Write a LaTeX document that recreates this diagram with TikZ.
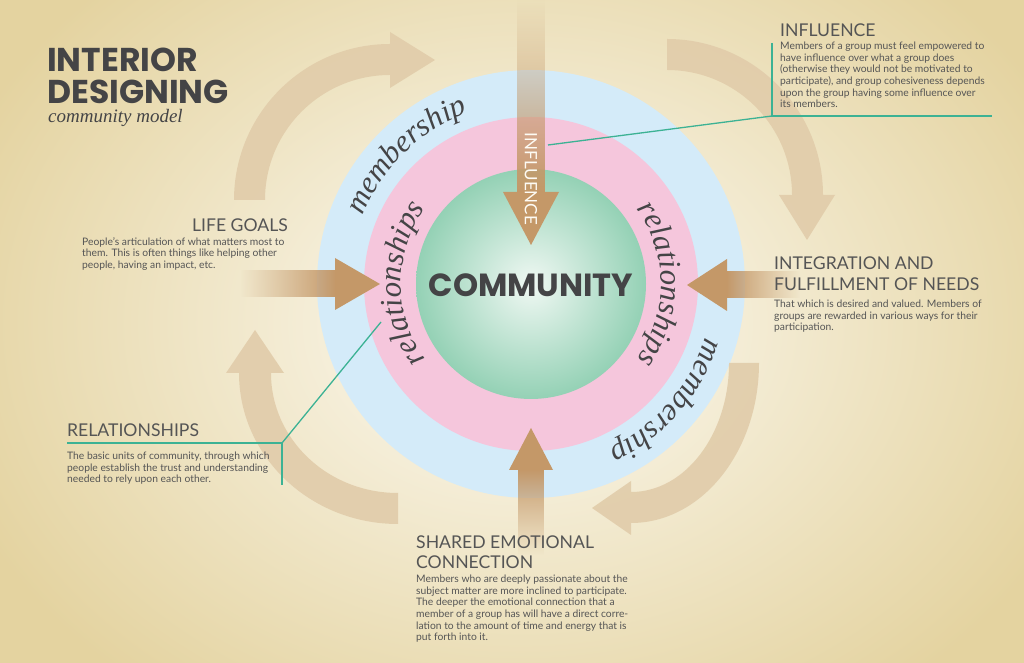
\documentclass[tikz,border=0pt]{standalone}
\usepackage{fontspec}
\setmainfont{Lato}
\newfontfamily\titlefont{Poppins}
\newfontfamily\serifit{Liberation Serif}
\usetikzlibrary{decorations.text,fadings,calc}
\definecolor{tan}{RGB}{228,211,160}
\definecolor{bgw}{RGB}{253,251,244}
\definecolor{ringblue}{RGB}{212,235,249}
\definecolor{ringpink}{RGB}{245,198,220}
\definecolor{ballg}{RGB}{148,209,181}
\definecolor{ballw}{RGB}{240,248,243}
\definecolor{brownarr}{RGB}{196,152,104}
\definecolor{lightarr}{RGB}{225,204,170}
\definecolor{teal}{RGB}{60,178,148}
\definecolor{txt}{RGB}{85,85,85}
\definecolor{dark}{RGB}{68,68,70}
\tikzset{
  bigarrow/.style={fill=lightarr, fill opacity=.9},
  headtxt/.style={font=\fontsize{17.6}{21}\selectfont, text=txt, inner sep=0pt, align=left},
  bodytxt/.style={font=\fontsize{10.3}{11.6}\selectfont, text=txt, inner sep=0pt, align=left, anchor=north west},
  tealline/.style={draw=teal, line width=1.3pt},
  arctext/.style={decorate, decoration={text along path, text align=center, text color=dark}},
}
\begin{document}
\begin{tikzpicture}[x=1pt,y=1pt]
\useasboundingbox (0,0) rectangle (1024,663);
% background
\fill[tan] (0,0) rectangle (1024,663);
\shade[inner color=bgw, outer color=tan] (520,340) ellipse (600 and 470);
\coordinate (C) at (531,379);
% rings
\fill[ringblue] (C) circle (214);
\fill[ringpink] (C) circle (167);
\shade[inner color=ballw, outer color=ballg] (C) circle (115);
% big curved arrows
\fill[bigarrow] (234,463) arc (180:90:156) -- (390,631) -- (435,603) -- (390,575) -- (390,588) arc (90:180:125) -- cycle;
\fill[bigarrow] (667,624) arc (90:0:156) -- (835,468) -- (807,423) -- (779,468) -- (792,468) arc (0:90:125) -- cycle;
\fill[bigarrow] (759,300) arc (0:-90:128 and 160) -- (631,128) -- (592,155) -- (631,182) -- (631,171) arc (-90:0:98 and 129) -- cycle;
\fill[bigarrow] (398,139) arc (270:180:159 and 151) -- (226,290) -- (255,333) -- (284,290) -- (271,290) arc (180:270:127 and 120) -- cycle;
% centre arrows
\fill[brownarr, path fading=north] (517,663) rectangle (545,471);
\fill[brownarr] (503,471) -- (559,471) -- (531,418) -- cycle;
\fill[brownarr, path fading=west] (240,366) rectangle (336,393);
\fill[brownarr] (335,353) -- (335,405) -- (380,379) -- cycle;
\fill[brownarr, path fading=east] (726,365) rectangle (800,392);
\fill[brownarr] (727,352) -- (727,404) -- (687,378) -- cycle;
\fill[brownarr, path fading=south] (518,108) rectangle (544,194);
\fill[brownarr] (509,193) -- (553,193) -- (531,235) -- cycle;
\node[rotate=-90, text=bgw, font=\fontsize{17}{17}\selectfont, inner sep=0pt] (infl) at (531,484) {INFLUENCE};
% arc texts
\path[arctext, decoration={text={|\fontsize{31}{31}\serifit\itshape|membership}}] ($(C)+(166:182)$) arc (166:102:182);
\path[arctext, decoration={text={|\fontsize{31}{31}\serifit\itshape|relationships}}] ($(C)+(226:130)$) arc (226:134:130);
\path[arctext, decoration={text={|\fontsize{31}{31}\serifit\itshape|relationships}}] ($(C)+(46:130)$) arc (46:-46:130);
\path[arctext, decoration={text={|\fontsize{31}{31}\serifit\itshape|membership}}] ($(C)+(-7:182)$) arc (-7:-75:182);
\node[font=\titlefont\bfseries\fontsize{32}{32}\selectfont, text=dark, inner sep=0pt] (comm) at (531,378) {COMMUNITY};
% title
\node[anchor=base west, font=\titlefont\bfseries\fontsize{33}{33}\selectfont, text=dark, inner sep=0pt] (t1) at (47,591) {INTERIOR};
\node[anchor=base west, font=\titlefont\bfseries\fontsize{33}{33}\selectfont, text=dark, inner sep=0pt] (t2) at (47,559) {DESIGNING};
\node[anchor=base west, font=\serifit\itshape\fontsize{19}{19}\selectfont, text=dark, inner sep=0pt] (t3) at (48,540) {community model};
% life goals
\node[headtxt, anchor=base east] (lg) at (288,431) {LIFE GOALS};
\node[bodytxt] (lgb) at (82,426) {People's articulation of what matters most to\\them. This is often things like helping other\\people, having an impact, etc.};
% influence
\node[headtxt, anchor=base west] (inf) at (780,626) {INFLUENCE};
\node[bodytxt] (infb) at (780,621) {Members of a group must feel empowered to\\have influence over what a group does\\(otherwise they would not be motivated to\\participate), and group cohesiveness depends\\upon the group having some influence over\\its members.};
% integration
\node[headtxt, anchor=base west] (integ) at (774,393) {INTEGRATION AND};
\node[headtxt, anchor=base west] (integ2) at (774,372) {FULFILLMENT OF NEEDS};
\node[bodytxt] (integb) at (774,363) {That which is desired and valued. Members of\\groups are rewarded in various ways for their\\participation.};
% relationships
\node[headtxt, anchor=base west] (rel) at (67,226) {RELATIONSHIPS};
\node[bodytxt] (relb) at (67,211) {The basic units of community, through which\\people establish the trust and understanding\\needed to rely upon each other.};
% shared
\node[headtxt, anchor=base west] (sh) at (416,114) {SHARED EMOTIONAL};
\node[headtxt, anchor=base west] (sh2) at (416,94) {CONNECTION};
\node[bodytxt] (shb) at (416,88) {Members who are deeply passionate about the\\subject matter are more inclined to participate.\\The deeper the emotional connection that a\\member of a group has will have a direct corre-\\lation to the amount of time and energy that is\\put forth into it.};
% teal leader lines
\coordinate (ij) at (772,547);
\coordinate (it) at (772,620);
\coordinate (ie) at (992,547);
\coordinate (ip) at (548,518);
\draw[tealline] (it) -- (ij) -- (ie);
\draw[tealline] (ij) -- (ip);
\coordinate (rj) at (282,220);
\coordinate (rl) at (67,220);
\coordinate (rb) at (282,178);
\coordinate (rp) at (381,341);
\draw[tealline] (rl) -- (rj) -- (rb);
\draw[tealline] (rj) -- (rp);
\end{tikzpicture}
\end{document}
